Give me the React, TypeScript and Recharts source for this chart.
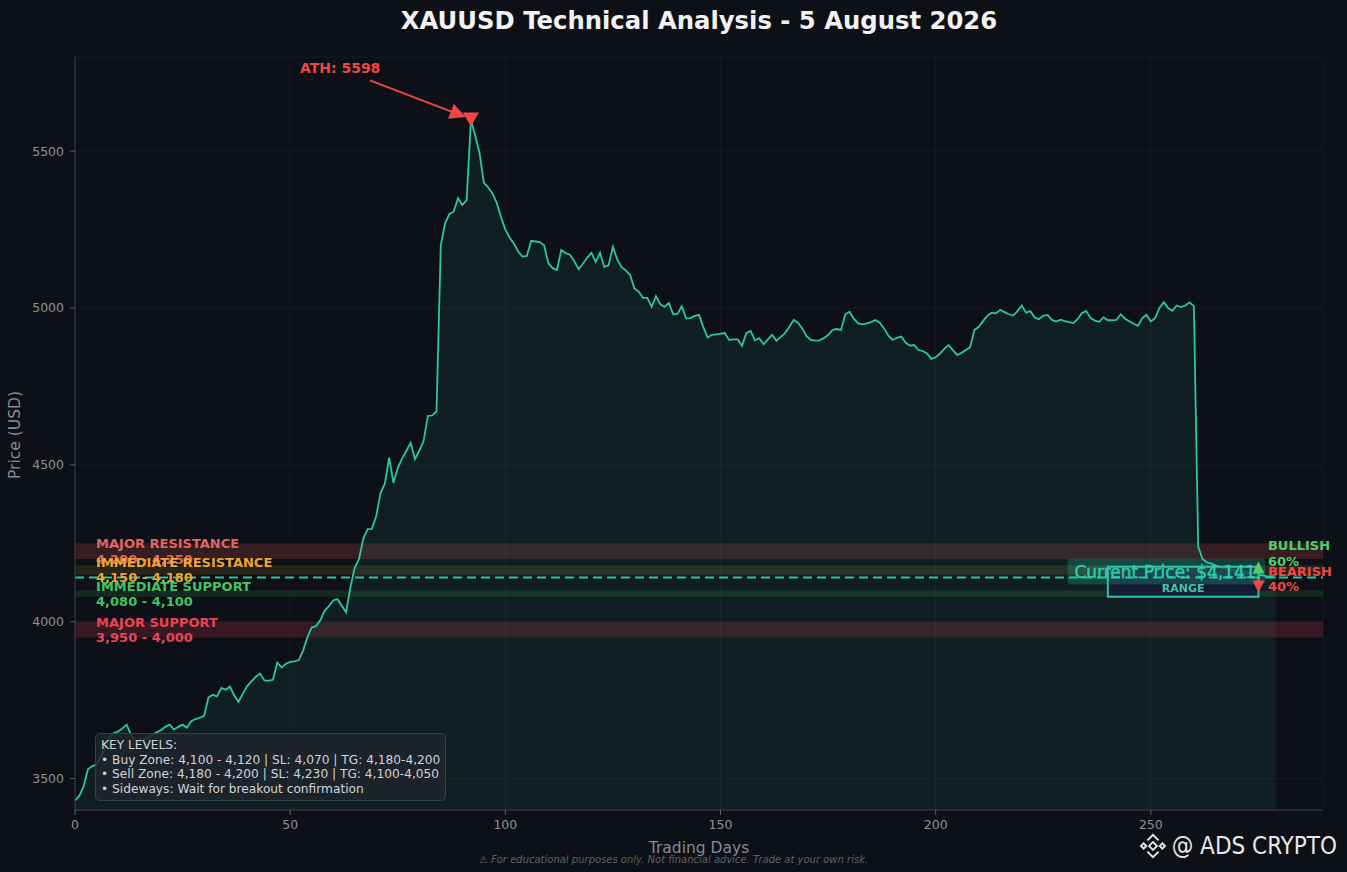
import React from 'react';
import {
  ComposedChart,
  Area,
  XAxis,
  YAxis,
  CartesianGrid,
  ReferenceArea,
  ReferenceLine,
  ReferenceDot,
} from 'recharts';

// daily closes, day 0 .. 279
const prices = [
  3430, 3445, 3475, 3530, 3540, 3545, 3570, 3600, 3630, 3645,
  3650, 3660, 3672, 3640, 3620, 3615, 3625, 3630, 3640, 3648,
  3655, 3665, 3672, 3656, 3665, 3672, 3662, 3683, 3690, 3694,
  3700, 3758, 3767, 3762, 3789, 3783, 3793, 3765, 3745, 3771,
  3795, 3810, 3825, 3835, 3813, 3812, 3815, 3870, 3854, 3866,
  3872, 3874, 3878, 3908, 3950, 3982, 3986, 4005, 4035, 4050,
  4068, 4072, 4051, 4030, 4110, 4172, 4200, 4265, 4295, 4296,
  4337, 4410, 4440, 4523, 4443, 4490, 4520, 4545, 4570, 4518,
  4545, 4576, 4656, 4658, 4670, 5200, 5270, 5300, 5307, 5350,
  5328, 5344, 5598, 5550, 5494, 5400, 5385, 5365, 5335, 5290,
  5250, 5225, 5205, 5180, 5164, 5166, 5214, 5212, 5210, 5200,
  5143, 5127, 5121, 5185, 5175, 5170, 5150, 5124, 5140, 5160,
  5176, 5147, 5176, 5131, 5137, 5195, 5155, 5130, 5120, 5105,
  5062, 5052, 5032, 5032, 5004, 5038, 5012, 5004, 5016, 4980,
  4981, 5006, 4967, 4968, 4975, 4978, 4940, 4906, 4914, 4916,
  4918, 4920, 4898, 4900, 4900, 4880, 4920, 4927, 4897, 4904,
  4884, 4900, 4914, 4896, 4908, 4920, 4940, 4962, 4953, 4935,
  4910, 4898, 4896, 4897, 4904, 4914, 4930, 4933, 4930, 4980,
  4988, 4965, 4951, 4948, 4951, 4955, 4962, 4953, 4935, 4912,
  4898, 4905, 4909, 4890, 4880, 4882, 4866, 4863, 4855, 4838,
  4843, 4855, 4870, 4882, 4866, 4850, 4857, 4866, 4875, 4930,
  4940, 4958, 4975, 4985, 4983, 4994, 4987, 4980, 4976, 4990,
  5008, 4985, 4990, 4970, 4964, 4975, 4978, 4962, 4957, 4963,
  4958, 4955, 4952, 4965, 4984, 4990, 4968, 4960, 4956, 4970,
  4961, 4961, 4962, 4980, 4966, 4958, 4950, 4943, 4968, 4978,
  4957, 4968, 5000, 5018, 5000, 4991, 5008, 5003, 5008, 5018,
  5006, 4240, 4200, 4190, 4185, 4180, 4175, 4170, 4168, 4165,
  4162, 4160, 4158, 4155, 4152, 4150, 4148, 4145, 4143, 4141,
];

const xTicks = [0, 50, 100, 150, 200, 250];
const yTicks = [3500, 4000, 4500, 5000, 5500];

const zoneNames = ['MAJOR RESISTANCE', 'IMMEDIATE RESISTANCE', 'IMMEDIATE SUPPORT', 'MAJOR SUPPORT'];
const zoneLow = [4200, 4150, 4080, 3950];
const zoneHigh = [4250, 4180, 4100, 4000];
const zoneText = ['4,200 - 4,250', '4,150 - 4,180', '4,080 - 4,100', '3,950 - 4,000'];
const zoneFill = ['rgba(220,80,80,0.2)', 'rgba(230,170,40,0.13)', 'rgba(60,190,90,0.15)', 'rgba(220,60,80,0.2)'];
const zoneColor = ['#e06464', '#f0a42e', '#45c262', '#e8455a'];

const currentPrice = 4141;
const athDay = 92;
const athPrice = 5598;
const rangeStart = 240;
const rangeEnd = 275;
const rangeLow = 4080;
const rangeHigh = 4175;
const bullishPct = 60;
const bearishPct = 40;

const keyLevels = [
  'KEY LEVELS:',
  '• Buy Zone: 4,100 - 4,120 | SL: 4,070 | TG: 4,180-4,200',
  '• Sell Zone: 4,180 - 4,200 | SL: 4,230 | TG: 4,100-4,050',
  '• Sideways: Wait for breakout confirmation',
];

const TEAL = '#2ec4a6';
const RED = '#ef4646';
const GREEN = '#4fd06a';
const FONT = '"DejaVu Sans", sans-serif';

const data = prices.map((price, day) => ({ day, price }));

export default function App() {
  return (
    <div
      style={{
        position: 'fixed',
        left: 0,
        top: 0,
        width: 1347,
        height: 872,
        background: '#0d1117',
        overflow: 'hidden',
        fontFamily: FONT,
      }}
    >
      <ComposedChart
        width={1347}
        height={872}
        data={data}
        margin={{ top: 57, right: 24, left: 0, bottom: 32 }}
        style={{ fontFamily: FONT }}
      >
        <CartesianGrid stroke="#151a21" strokeWidth={1} />
        <XAxis
          type="number"
          dataKey="day"
          domain={[0, 290]}
          ticks={xTicks}
          height={30}
          tickSize={5}
          tickMargin={5}
          axisLine={{ stroke: '#3a3f47' }}
          tickLine={{ stroke: '#5a5f68' }}
          tick={{ fill: '#8b9099', fontSize: 12.5 }}
        />
        <YAxis
          type="number"
          domain={[3400, 5800]}
          ticks={yTicks}
          width={75}
          tickSize={5}
          tickMargin={6}
          axisLine={{ stroke: '#3a3f47' }}
          tickLine={{ stroke: '#5a5f68' }}
          tick={{ fill: '#8b9099', fontSize: 12.5 }}
        />
        {zoneNames.map((name, i) => (
          <ReferenceArea
            key={name}
            x1={0}
            x2={290}
            y1={zoneLow[i]}
            y2={zoneHigh[i]}
            fill={zoneFill[i]}
            fillOpacity={1}
            stroke="none"
          />
        ))}
        <Area
          type="linear"
          dataKey="price"
          stroke={TEAL}
          strokeWidth={1.8}
          fill={TEAL}
          fillOpacity={0.08}
          dot={false}
          activeDot={false}
          isAnimationActive={false}
        />
        <ReferenceLine y={currentPrice} stroke="#22c9a0" strokeWidth={2} strokeDasharray="9 5" />
        <ReferenceArea
          x1={rangeStart}
          x2={rangeEnd}
          y1={rangeLow}
          y2={rangeHigh}
          fill="rgba(22,24,58,0.75)"
          fillOpacity={1}
          stroke={TEAL}
          strokeWidth={2}
          label={{ value: 'RANGE', position: 'insideBottom', offset: 5, fill: '#3fc7aa', fontSize: 11, fontWeight: 'bold' }}
        />
        {zoneNames.map((name, i) => (
          <ReferenceDot
            key={'lbl' + name}
            x={4.9}
            y={(zoneLow[i] + zoneHigh[i]) / 2}
            r={1}
            shape={(p: any) => (
              <g>
                <text x={p.cx} y={p.cy - 3} fill={zoneColor[i]} fontSize={13} fontWeight="bold">
                  {name}
                </text>
                <text x={p.cx} y={p.cy + 12.5} fill={zoneColor[i]} fontSize={13} fontWeight="bold">
                  {zoneText[i]}
                </text>
              </g>
            )}
          />
        ))}
        <ReferenceDot
          x={athDay}
          y={athPrice}
          r={1}
          shape={(p: any) => (
            <g>
              <defs>
                <marker id="athHead" markerWidth="8" markerHeight="8" refX="7" refY="4" orient="auto">
                  <path d="M0,0 L8,4 L0,8 z" fill={RED} />
                </marker>
              </defs>
              <line x1={p.cx - 101} y1={p.cy - 40} x2={p.cx - 7} y2={p.cy - 4} stroke={RED} strokeWidth={2} markerEnd="url(#athHead)" />
              <polygon points={`${p.cx - 8},${p.cy - 8} ${p.cx + 8},${p.cy - 8} ${p.cx},${p.cy + 6}`} fill={RED} />
              <text x={p.cx - 171} y={p.cy - 47} fill={RED} fontSize={14} fontWeight="bold">
                {'ATH: ' + athPrice}
              </text>
            </g>
          )}
        />
        <ReferenceDot
          x={232}
          y={4160}
          r={1}
          shape={(p: any) => (
            <g>
              <rect x={p.cx - 6} y={p.cy - 13} width={198} height={26} rx={4} fill="rgba(43,196,160,0.25)" />
              <text x={p.cx + 1} y={p.cy + 6} fill="#2bd1a8" fontSize={17} stroke="#2bd1a8" strokeWidth={0.4}>
                {'Current Price: $' + currentPrice.toLocaleString('en-US')}
              </text>
            </g>
          )}
        />
        <ReferenceDot
          x={rangeEnd}
          y={currentPrice}
          r={1}
          shape={(p: any) => (
            <g>
              <polygon points={`${p.cx - 6},${p.cy - 4} ${p.cx + 6},${p.cy - 4} ${p.cx},${p.cy - 16}`} fill={GREEN} />
              <polygon points={`${p.cx - 6},${p.cy + 3} ${p.cx + 6},${p.cy + 3} ${p.cx},${p.cy + 15}`} fill={RED} />
              <text x={p.cx + 9.5} y={p.cy - 28} fill={GREEN} fontSize={13} fontWeight="bold">BULLISH</text>
              <text x={p.cx + 9.5} y={p.cy - 12} fill={GREEN} fontSize={13} fontWeight="bold">{bullishPct + '%'}</text>
              <text x={p.cx + 9.5} y={p.cy - 2} fill={RED} fontSize={13} fontWeight="bold">BEARISH</text>
              <text x={p.cx + 9.5} y={p.cy + 13} fill={RED} fontSize={13} fontWeight="bold">{bearishPct + '%'}</text>
            </g>
          )}
        />
      </ComposedChart>

      <div
        style={{
          position: 'absolute',
          left: 75,
          width: 1248,
          top: 7,
          lineHeight: '28px',
          textAlign: 'center',
          color: '#f2f2f2',
          fontWeight: 'bold',
          fontSize: 24.3,
        }}
      >
        XAUUSD Technical Analysis - 5 August 2026
      </div>

      <div
        style={{
          position: 'absolute',
          left: 95,
          top: 733,
          width: 351,
          height: 68,
          background: 'rgba(32,36,44,0.85)',
          border: '1px solid #3a3f48',
          borderRadius: 5,
          padding: '4px 0 0 5px',
          boxSizing: 'border-box',
          color: '#d0d4d9',
          fontSize: 12.2,
          lineHeight: '14.7px',
          whiteSpace: 'nowrap',
        }}
      >
        {keyLevels.map((t) => (
          <div key={t}>{t}</div>
        ))}
      </div>

      <div
        style={{
          position: 'absolute',
          left: 75,
          width: 1248,
          top: 837,
          lineHeight: '22px',
          textAlign: 'center',
          color: '#858a93',
          fontSize: 15.5,
        }}
      >
        Trading Days
      </div>

      <div
        style={{
          position: 'absolute',
          left: 15 - 60,
          top: 435 - 11,
          width: 120,
          lineHeight: '22px',
          textAlign: 'center',
          color: '#858a93',
          fontSize: 15.5,
          transform: 'rotate(-90deg)',
        }}
      >
        Price (USD)
      </div>

      <div
        style={{
          position: 'absolute',
          left: 0,
          width: 1347,
          top: 853,
          lineHeight: '14px',
          textAlign: 'center',
          color: '#5c616a',
          fontSize: 10,
          fontStyle: 'italic',
        }}
      >
        ⚠ For educational purposes only. Not financial advice. Trade at your own risk.
      </div>

      <div
        style={{
          position: 'absolute',
          right: 10,
          top: 831,
          height: 30,
          display: 'flex',
          alignItems: 'center',
          whiteSpace: 'nowrap',
          color: '#e8e8e8',
          fontFamily: '"Liberation Sans Narrow", "DejaVu Sans Condensed", sans-serif',
          fontSize: 24,
        }}
      >
        <svg width={28} height={28} viewBox="0 0 30 30" style={{ marginRight: 5, flexShrink: 0 }}>
          <g fill="none" stroke="#e8e8e8" strokeWidth={2}>
            <rect x={12} y={12} width={6} height={6} transform="rotate(45 15 15)" />
            <path d="M9,9 L15,3 L21,9" />
            <path d="M9,21 L15,27 L21,21" />
            <rect x={3} y={13} width={4} height={4} transform="rotate(45 5 15)" />
            <rect x={23} y={13} width={4} height={4} transform="rotate(45 25 15)" />
          </g>
        </svg>
        <span>@ ADS CRYPTO</span>
      </div>
    </div>
  );
}
